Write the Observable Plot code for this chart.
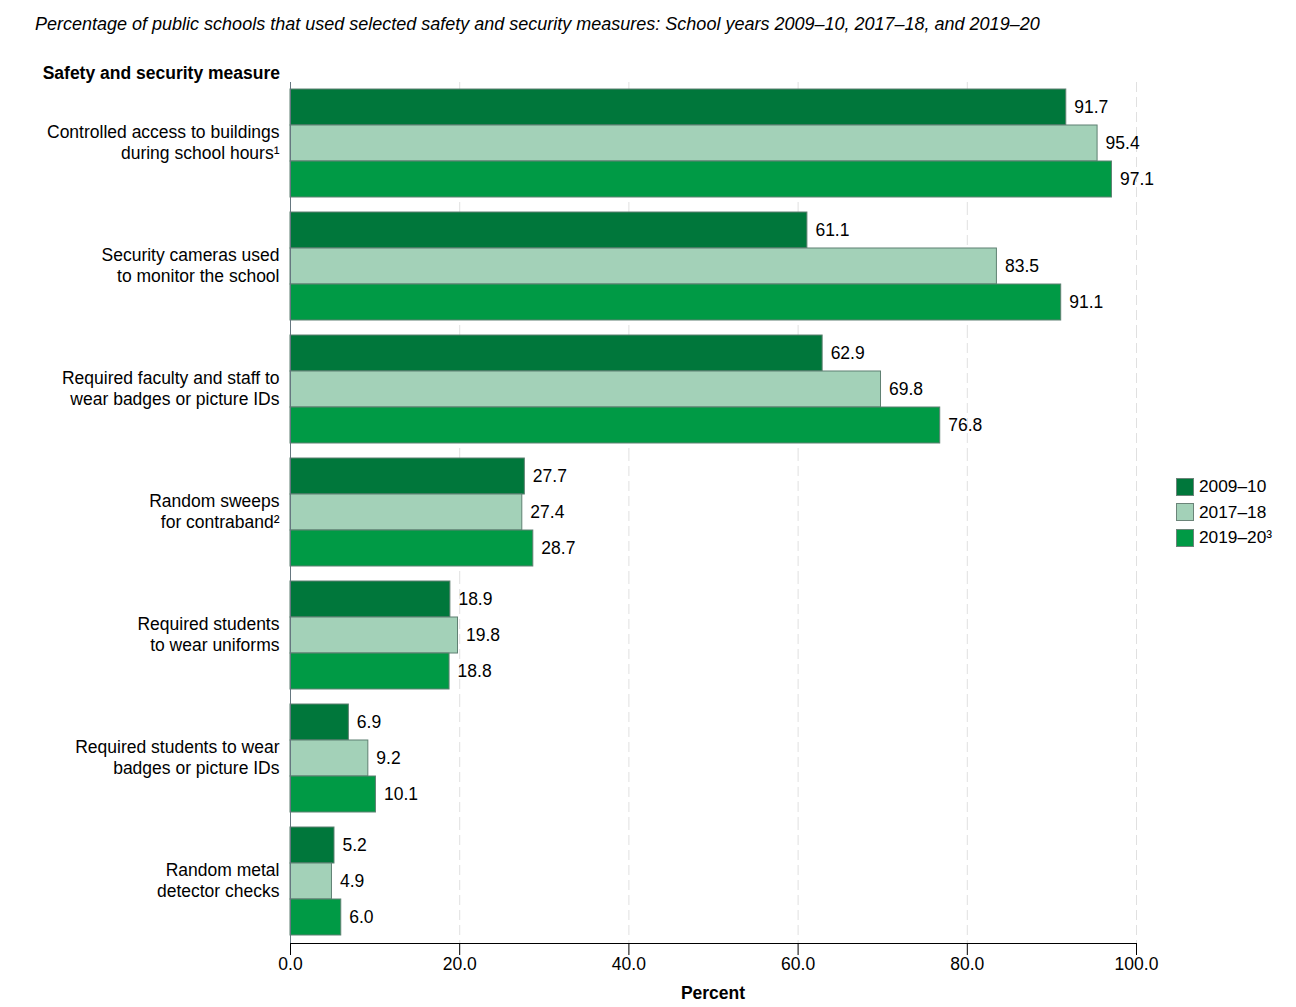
<!DOCTYPE html>
<html>
<head>
<meta charset="utf-8">
<script src="https://cdn.jsdelivr.net/npm/d3@7"></script>
<script src="https://cdn.jsdelivr.net/npm/@observablehq/plot@0.6"></script>
<style>
  html, body { margin: 0; padding: 0; background: #fff; }
  body { width: 1296px; height: 1007px; position: relative; font-family: "Liberation Sans", Arial, sans-serif; color: #000; overflow: hidden; }
  #title { position: absolute; left: 35px; top: 13px; font-size: 18px; line-height: 22px; font-style: italic; white-space: nowrap; z-index: 2; }
  #heading { position: absolute; right: calc(1296px - 280px); top: 62px; font-size: 17.5px; line-height: 22px; font-weight: bold; white-space: nowrap; z-index: 2; }
  #chart { position: absolute; left: 0; top: 80px; z-index: 1; }
  #xlabel { position: absolute; left: 290px; width: 846px; top: 982px; text-align: center; font-size: 17.5px; line-height: 22px; font-weight: bold; z-index: 2; }
  #legend { position: absolute; left: 1176px; top: 474px; font-size: 17.3px; z-index: 2; }
  .li { display: flex; align-items: center; height: 25.5px; white-space: nowrap; }
  .sw { width: 16px; height: 16px; border: 1px solid #6b8479; margin-right: 5px; box-sizing: content-box; }
</style>
</head>
<body>
<div id="chart"></div>
<div id="title"></div>
<div id="heading"></div>
<div id="xlabel"></div>
<div id="legend"></div>
<script>
const titleText = "Percentage of public schools that used selected safety and security measures: School years 2009–10, 2017–18, and 2019–20";
const headingText = "Safety and security measure";
const xLabelText = "Percent";

const categories = [
  "Controlled access to buildings\nduring school hours¹",
  "Security cameras used\nto monitor the school",
  "Required faculty and staff to\nwear badges or picture IDs",
  "Random sweeps\nfor contraband²",
  "Required students\nto wear uniforms",
  "Required students to wear\nbadges or picture IDs",
  "Random metal\ndetector checks"
];
const series = ["2009–10", "2017–18", "2019–20"];
const seriesLabels = ["2009–10", "2017–18", "2019–20³"];
const values2009 = [91.7, 61.1, 62.9, 27.7, 18.9, 6.9, 5.2];
const values2017 = [95.4, 83.5, 69.8, 27.4, 19.8, 9.2, 4.9];
const values2019 = [97.1, 91.1, 76.8, 28.7, 18.8, 10.1, 6.0];
const xTicks = [0, 20, 40, 60, 80, 100];
const gridTicks = [20, 40, 60, 80, 100];
const colors = ["#00773b", "#a3d1b8", "#009a45"];

const seriesValues = [values2009, values2017, values2019];
const data = [];
categories.forEach((c, i) => {
  series.forEach((s, j) => data.push({category: c, series: s, value: seriesValues[j][i]}));
});

document.getElementById("title").textContent = titleText;
document.getElementById("heading").textContent = headingText;
document.getElementById("xlabel").textContent = xLabelText;

const fmt = d3.format(".1f");

const chart = Plot.plot({
  width: 1296,
  height: 903,
  marginLeft: 290,
  marginRight: 160,
  marginTop: 9,
  marginBottom: 40,
  style: {fontFamily: "'Liberation Sans', Arial, sans-serif", fontSize: "17.5px", color: "#000", background: "transparent"},
  x: {domain: [0, 100], ticks: xTicks, tickFormat: fmt, tickSize: 12, tickPadding: 2, label: null, line: true},
  y: {domain: series, padding: 0, insetBottom: 8, axis: null},
  fy: {domain: categories, paddingInner: 7/123, paddingOuter: 0, axis: null, label: null},
  color: {domain: series, range: colors},
  marks: [
    Plot.ruleX(gridTicks, {stroke: "#e0e0e0", strokeWidth: 1, strokeDasharray: "10,5", insetTop: -7}),
    Plot.barX(data, {x: "value", y: "series", fy: "category", fill: "series", stroke: "#5f8072", strokeWidth: 1}),
    Plot.ruleX([0], {stroke: "#667780", strokeWidth: 1, insetTop: -7}),
    Plot.text(data, {x: "value", y: "series", fy: "category", text: d => fmt(d.value), textAnchor: "start", dx: 8, fontSize: 17.5, fill: "#000"}),
    Plot.text(categories, {fy: d => d, text: d => d, frameAnchor: "left", textAnchor: "end", dx: -11, dy: -6, lineHeight: 1.2, fontSize: 17.5, fill: "#000"})
  ]
});
document.getElementById("chart").appendChild(chart);

const legend = document.getElementById("legend");
seriesLabels.forEach((lab, i) => {
  const row = document.createElement("div");
  row.className = "li";
  const sw = document.createElement("span");
  sw.className = "sw";
  sw.style.background = colors[i];
  const tx = document.createElement("span");
  tx.textContent = lab;
  row.appendChild(sw);
  row.appendChild(tx);
  legend.appendChild(row);
});
</script>
</body>
</html>
